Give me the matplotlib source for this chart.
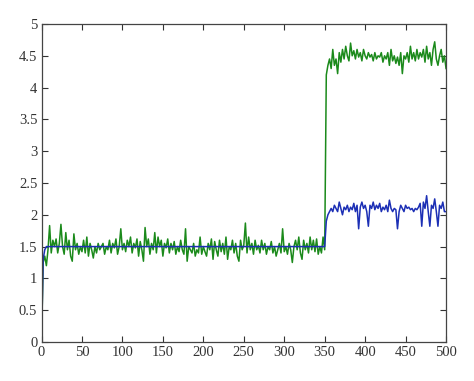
import numpy as np
import matplotlib
matplotlib.use('Agg')
import matplotlib.pyplot as plt

x = np.arange(0, 501, 2)

green = [
    0.0, 1.25, 1.35, 1.2, 1.45, 1.83, 1.4, 1.6, 1.5, 1.62,
    1.4, 1.55, 1.85, 1.5, 1.38, 1.72, 1.45, 1.6, 1.35, 1.27,
    1.7, 1.45, 1.55, 1.38, 1.5, 1.42, 1.6, 1.4, 1.65, 1.35,
    1.55, 1.45, 1.32, 1.5, 1.4, 1.55, 1.45, 1.5, 1.55, 1.38,
    1.5, 1.45, 1.6, 1.4, 1.55, 1.48, 1.62, 1.38, 1.5, 1.78,
    1.45, 1.55, 1.42, 1.6, 1.5, 1.65, 1.4, 1.55, 1.48, 1.62,
    1.35, 1.58, 1.45, 1.27, 1.8, 1.5, 1.62, 1.38, 1.55, 1.45,
    1.72, 1.4, 1.65, 1.5, 1.6, 1.35, 1.55, 1.48, 1.62, 1.4,
    1.55, 1.45, 1.58, 1.38, 1.5, 1.42, 1.6, 1.45, 1.38, 1.78,
    1.27, 1.5, 1.45, 1.4, 1.55, 1.35, 1.45, 1.4, 1.65, 1.38,
    1.5, 1.42, 1.35, 1.55, 1.45, 1.62, 1.3, 1.58, 1.45, 1.35,
    1.6, 1.42, 1.55, 1.38, 1.65, 1.3, 1.5, 1.45, 1.6, 1.4,
    1.55, 1.35, 1.27, 1.6, 1.45, 1.52, 1.87, 1.4, 1.65, 1.45,
    1.55, 1.38, 1.6, 1.45, 1.52, 1.4, 1.6, 1.45, 1.55, 1.38,
    1.5, 1.45, 1.58, 1.4, 1.5, 1.35, 1.45, 1.55, 1.4, 1.78,
    1.42, 1.5, 1.38, 1.55, 1.45, 1.25, 1.5, 1.6, 1.45, 1.65,
    1.4, 1.3, 1.6, 1.45, 1.55, 1.4, 1.65, 1.45, 1.6, 1.42,
    1.62, 1.38, 1.5, 1.4, 1.65, 1.45,
    # step up after x = 350
    4.2, 4.35, 4.45, 4.3, 4.6, 4.35, 4.45, 4.22, 4.55, 4.4,
    4.6, 4.45, 4.65, 4.5, 4.42, 4.7, 4.5, 4.58, 4.45, 4.6,
    4.48, 4.55, 4.42, 4.6, 4.5, 4.45, 4.55, 4.48, 4.52, 4.42,
    4.55, 4.45, 4.5, 4.48, 4.55, 4.4, 4.5, 4.45, 4.55, 4.35,
    4.6, 4.42, 4.5, 4.38, 4.48, 4.35, 4.55, 4.22, 4.5, 4.45,
    4.55, 4.4, 4.65, 4.45, 4.55, 4.42, 4.6, 4.45, 4.55, 4.48,
    4.6, 4.4, 4.65, 4.45, 4.55, 4.35, 4.6, 4.72, 4.45, 4.35,
    4.5, 4.6, 4.4, 4.5, 4.3,
]

# blue: quick rise, flat at 1.5 up to x = 350, then noisy around 2.1
blue_start = [0.0, 1.3, 1.45]
blue_flat = 1.5
blue_after = [
    1.9, 2.0, 2.05, 2.1, 2.05, 2.15, 2.1, 2.05, 2.2, 2.1,
    2.0, 2.12, 2.08, 2.15, 2.05, 2.12, 2.08, 2.18, 2.05, 2.15,
    1.78, 2.12, 2.2, 2.1, 2.15, 2.05, 1.82, 2.15, 2.1, 2.2,
    2.08, 2.15, 2.1, 2.18, 2.05, 2.12, 2.08, 2.15, 2.05, 2.23,
    2.1, 2.05, 2.1, 2.08, 1.78, 2.05, 2.15, 2.1, 2.05, 2.15,
    2.1, 2.12, 2.08, 2.1, 2.05, 2.1, 2.08, 2.12, 2.18, 1.82,
    2.2, 2.1, 2.3, 2.05, 1.82, 2.15, 2.1, 2.25, 2.05, 1.82,
    2.15, 2.1, 2.2, 2.05, 2.05,
]
n_flat = len(x) - len(blue_start) - len(blue_after)
blue = blue_start + [blue_flat] * n_flat + blue_after

xticks = [0, 50, 100, 150, 200, 250, 300, 350, 400, 450, 500]
yticks = [0, 0.5, 1, 1.5, 2, 2.5, 3, 3.5, 4, 4.5, 5]
yticklabels = ['0', '0.5', '1', '1.5', '2', '2.5', '3', '3.5', '4', '4.5', '5']

# ============= Plot =============
plt.rcParams['font.family'] = ['Liberation Serif', 'DejaVu Serif']

fig = plt.figure(figsize=(4.74, 3.81), dpi=100)
ax = fig.add_axes([0.0876, 0.1024, 0.8534, 0.8346])

ax.plot(x, green, color='#1b8a1b', lw=1.1)
ax.plot(x, blue, color='#1c2fb5', lw=1.1)

ax.set_xlim(0, 500)
ax.set_ylim(0, 5)
ax.set_xticks(xticks)
ax.set_yticks(yticks)
ax.set_yticklabels(yticklabels)
ax.tick_params(direction='in', top=True, right=True, length=4, width=0.8,
               labelsize=10.5, colors='#333333', pad=3)
for s in ax.spines.values():
    s.set_color('#444444')
    s.set_linewidth(0.9)

fig.savefig('out.png', dpi=100)
